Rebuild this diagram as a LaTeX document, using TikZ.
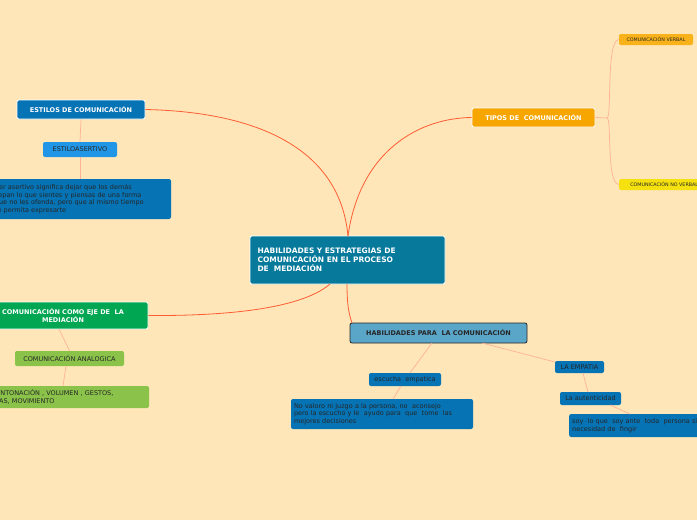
\documentclass[tikz,border=0pt]{standalone}
\usepackage{fontspec}
\setmainfont{DejaVu Sans}
\begin{document}
\begin{tikzpicture}[x=1pt,y=-1pt,
 box/.style={rounded corners=2pt,inner sep=0pt,font=\fontsize{6.5}{7.5}\selectfont,align=left,text=black!85},
 bx/.style={box,draw=white,line width=0.8pt},
 main/.style={draw=red!60!orange!80,line width=0.8pt},
 sub/.style={draw=orange!50!red!40,line width=0.7pt}]
\definecolor{bg}{HTML}{FEE6B8}
\definecolor{blu}{HTML}{0673B5}
\definecolor{lblu}{HTML}{2196E6}
\definecolor{teal}{HTML}{077A9C}
\definecolor{grn}{HTML}{00A651}
\definecolor{lgrn}{HTML}{8BC34A}
\definecolor{org}{HTML}{F7A600}
\definecolor{org2}{HTML}{F9B21A}
\definecolor{yel}{HTML}{F5E10F}
\definecolor{hab}{HTML}{5AA6C8}
\fill[bg] (0,0) rectangle (697,520);
\useasboundingbox (0,0) rectangle (697,520);
\node[bx,fill=teal,text=white,font=\bfseries\fontsize{7.5}{9}\selectfont,minimum width=195,minimum height=48,text width=180] (c) at (347.5,260) {HABILIDADES Y ESTRATEGIAS DE\\COMUNICACIÓN EN EL PROCESO\\DE\ \ MEDIACIÓN};
\node[bx,fill=blu,text=white,font=\bfseries\fontsize{6.5}{8}\selectfont,minimum width=128,minimum height=19] (e) at (81,109.5) {ESTILOS DE COMUNICACIÓN};
\node[box,fill=lblu,minimum width=74,minimum height=15] (ea) at (80,149.5) {ESTILOASERTIVO};
\node[box,fill=blu,minimum width=180,minimum height=40,text width=172] (et) at (81,199) {Ser asertivo significa dejar que los demás\\sepan lo que sientes y piensas de una forma\\que no les ofenda, pero que al mismo tiempo\\te permita expresarte};
\node[bx,fill=grn,text=white,font=\bfseries\fontsize{6.5}{8}\selectfont,minimum width=170,minimum height=27,align=center] (g) at (63,315.5) {COMUNICACIÓN COMO EJE DE\ \ LA\\MEDIACIÓN};
\node[box,fill=lgrn,minimum width=109,minimum height=15] (ga) at (69.5,358.5) {COMUNICACIÓN ANALOGICA};
\node[box,fill=lgrn,minimum width=180,minimum height=22,text width=172] (gt) at (59,397) {TONO, ENTONACIÓN , VOLUMEN , GESTOS,\\POSTURAS, MOVIMIENTO};
\node[bx,fill=org,text=white,font=\bfseries\fontsize{6.5}{8}\selectfont,minimum width=123,minimum height=19] (t) at (533.5,117.5) {TIPOS DE\ \ COMUNICACIÓN};
\node[box,fill=org2,font=\fontsize{4.8}{6}\selectfont,minimum width=74,minimum height=11] (tv) at (656,39.5) {COMUNICACIÓN VERBAL};
\node[box,fill=yel,font=\fontsize{4.8}{6}\selectfont,minimum width=90,minimum height=11,anchor=west] (tn) at (619,184.5) {COMUNICACIÓN NO VERBAL};
\node[box,fill=hab,draw=black!85,line width=0.8pt,font=\bfseries\fontsize{6.5}{8}\selectfont,minimum width=177,minimum height=20] (h) at (438.5,333) {HABILIDADES PARA\ \ LA COMUNICACIÓN};
\node[box,fill=blu,minimum width=72,minimum height=13] (h1) at (405,379.5) {escucha\ \ empatica};
\node[box,fill=blu,minimum width=182,minimum height=30,text width=176] (h1t) at (382,414) {No valoro ni juzgo a la persona, no\ \ aconsejo\\pero la escucho y le\ \ ayudo para\ \ que\ \ tome\ \ las\\mejores decisiones};
\node[box,fill=blu,minimum width=49,minimum height=12] (h2) at (579.5,367) {LA EMPATIA};
\node[box,fill=blu,minimum width=61,minimum height=13] (h3) at (590.5,398.5) {La autenticidad};
\node[box,fill=blu,minimum width=140,minimum height=23,text width=134,anchor=west] (h3t) at (569,425.5) {soy\ \ lo que\ \ soy ante\ \ toda\ \ persona sin\\necesidad de\ \ fingir};
\draw[main] (348,236) .. controls (340,150) and (260,112) .. (e.east);
\draw[main] (348,236) .. controls (360,150) and (420,118) .. (t.west);
\draw[main] (330,284) .. controls (300,310) and (220,316) .. (g.east);
\draw[main] (347,284) .. controls (347,300) and (348,312) .. (352,323);
\draw[sub] (e.south) -- (ea.north);
\draw[sub] (ea.south) -- (et.north-|ea.south);
\draw[sub] (59,329) -- (ga.north);
\draw[sub] (66,366) -- (63,386);
\draw[sub] (t.east) -- (607,118) .. controls (612,118) and (606,40) .. (tv.west);
\draw[sub] (607,118) .. controls (612,118) and (606,184) .. (tn.west);
\draw[sub] (432,343) -- (h1.north-|410,0);
\draw[sub] (401,386) -- (393,399);
\draw[sub] (482,343) -- (555,362);
\draw[sub] (583,373) -- (588,392);
\draw[sub] (610,405) -- (630,414);
\end{tikzpicture}
\end{document}
